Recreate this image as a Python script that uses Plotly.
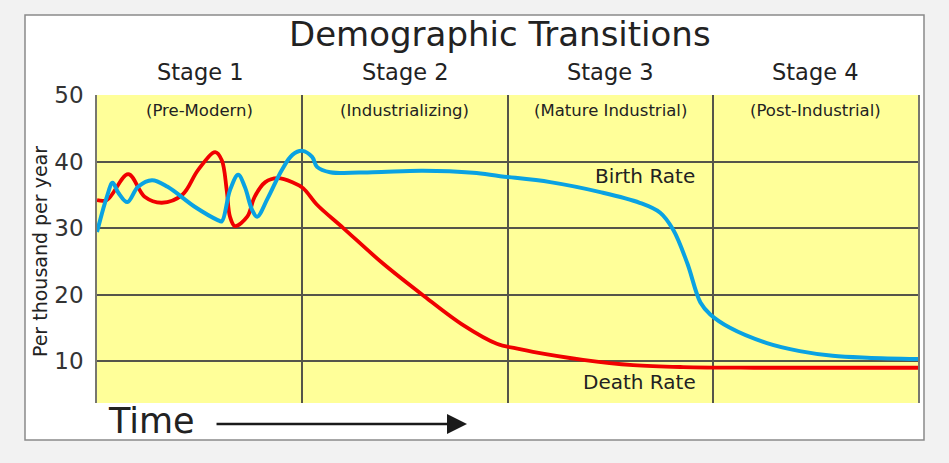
import plotly.graph_objects as go

# ---- data ----
time_birth = [0, 1.2, 1.9, 2.6, 3.7, 5.0, 6.7, 8.6, 11.9, 14.7, 15.2, 16.2, 17.2, 18.0, 18.9,
              19.5, 20.8, 22.5, 23.8, 25.0, 26.2, 26.8, 28.4, 33.6, 39.7, 45.8, 49.1, 55.2,
              61.3, 66.1, 68.6, 70.2, 71.9, 73.5, 74.7, 77.1, 81.6, 85.6, 89.6, 93.8, 100]
birth_rate = [29.4, 34.7, 36.8, 35.3, 33.9, 36.2, 37.2, 36.2, 33.2, 31.2, 31.0, 35.7, 38.0, 36.2, 32.7,
              31.7, 34.5, 38.7, 41.0, 41.6, 40.7, 39.2, 38.4, 38.4, 38.6, 38.3, 37.8, 36.9,
              35.4, 33.8, 32.3, 29.7, 24.7, 18.8, 17.0, 15.0, 12.7, 11.5, 10.8, 10.5, 10.3]

time_death = [0, 1.2, 3.8, 5.8, 7.9, 10.4, 12.3, 14.4, 15.2, 15.8, 16.2, 16.8, 18.3, 19.2, 20.5,
              22.0, 23.8, 25.1, 26.8, 30.0, 34.8, 39.7, 44.6, 48.7, 51.5, 53.1, 59.2, 65.3, 71.4, 80, 100]
death_rate = [34.2, 34.2, 38.1, 34.7, 33.8, 35.0, 38.7, 41.4, 40.2, 35.7, 31.7, 30.3, 31.7, 34.7, 36.9,
              37.5, 36.9, 36.0, 33.5, 30.0, 24.7, 19.9, 15.4, 12.6, 11.8, 11.4, 10.2, 9.4, 9.1, 9.0, 9.0]

stage_bounds = [25, 50, 75]
stage_centers = [12.5, 37.5, 62.5, 87.5]
stage_names = ["Stage 1", "Stage 2", "Stage 3", "Stage 4"]
stage_subtitles = ["(Pre-Modern)", "(Industrializing)", "(Mature Industrial)", "(Post-Industrial)"]
y_ticks = [10, 20, 30, 40, 50]

FONT = "DejaVu Sans"
TXT = "#222222"

fig = go.Figure()
fig.add_trace(go.Scatter(x=time_death, y=death_rate, mode="lines",
                         line=dict(color="#f00000", width=3.8, shape="spline", smoothing=1.0),
                         hoverinfo="skip", showlegend=False))
fig.add_trace(go.Scatter(x=time_birth, y=birth_rate, mode="lines",
                         line=dict(color="#0aa2e2", width=4, shape="spline", smoothing=1.0),
                         hoverinfo="skip", showlegend=False))

shapes = [
    dict(type="rect", xref="paper", yref="paper", x0=-0.0877, x1=1.0073, y0=-0.1201, y1=1.2597,
         fillcolor="white", line=dict(color="#8a8a8a", width=1.5), layer="below"),
    dict(type="rect", xref="paper", yref="paper", x0=0, x1=1, y0=0, y1=1,
         fillcolor="#ffff99", line=dict(width=0), layer="below"),
]

annotations = [
    dict(text="Demographic Transitions", xref="paper", yref="paper", x=0.4903, y=1.198,
         showarrow=False, font=dict(family=FONT, size=34, color=TXT), xanchor="center", yanchor="middle"),
    dict(text="Per thousand per year", xref="paper", yref="paper", x=-0.0694, y=0.49, textangle=-90,
         showarrow=False, font=dict(family=FONT, size=19, color=TXT), xanchor="center", yanchor="middle"),
    dict(text="Time", xref="paper", yref="paper", x=0.0664, y=-0.0584,
         showarrow=False, font=dict(family=FONT, size=35, color=TXT), xanchor="center", yanchor="middle"),
    dict(text="", xref="paper", yref="paper", x=0.4507, y=-0.0682, ax=-252, ay=0,
         showarrow=True, arrowhead=2, arrowsize=1.6, arrowwidth=2.5, arrowcolor="#1a1a1a"),
    dict(text="Birth Rate", xref="x", yref="y", x=66.7, y=37.8, showarrow=False,
         font=dict(family=FONT, size=20, color=TXT), xanchor="center", yanchor="middle"),
    dict(text="Death Rate", xref="x", yref="y", x=66.1, y=6.9, showarrow=False,
         font=dict(family=FONT, size=20, color=TXT), xanchor="center", yanchor="middle"),
]
for cx, name, sub in zip(stage_centers, stage_names, stage_subtitles):
    annotations.append(dict(text=name, xref="x", yref="paper", x=cx, y=1.075, showarrow=False,
                            font=dict(family=FONT, size=22.5, color=TXT), xanchor="center", yanchor="middle"))
    annotations.append(dict(text=sub, xref="x", yref="y", x=cx, y=47.7, showarrow=False,
                            font=dict(family=FONT, size=16.5, color=TXT), xanchor="center", yanchor="middle"))

fig.update_layout(
    width=949, height=463, autosize=False,
    margin=dict(l=97, r=31, t=95, b=60),
    paper_bgcolor="#f2f2f2", plot_bgcolor="rgba(0,0,0,0)",
    shapes=shapes, annotations=annotations,
    xaxis=dict(range=[0, 100], tickvals=stage_bounds, showticklabels=False, ticks="",
               showgrid=True, gridcolor="#55554a", gridwidth=1.6, zeroline=False, showline=False,
               fixedrange=True),
    yaxis=dict(range=[3.7, 50], tickvals=y_ticks, ticks="", ticklabelstandoff=7,
               tickfont=dict(family=FONT, size=23, color="#333333"),
               showgrid=True, gridcolor="#55554a", gridwidth=1.6, zeroline=False,
               showline=True, mirror=True, linecolor="#77776f", linewidth=1.5, fixedrange=True),
)

fig.write_html("out.html")
